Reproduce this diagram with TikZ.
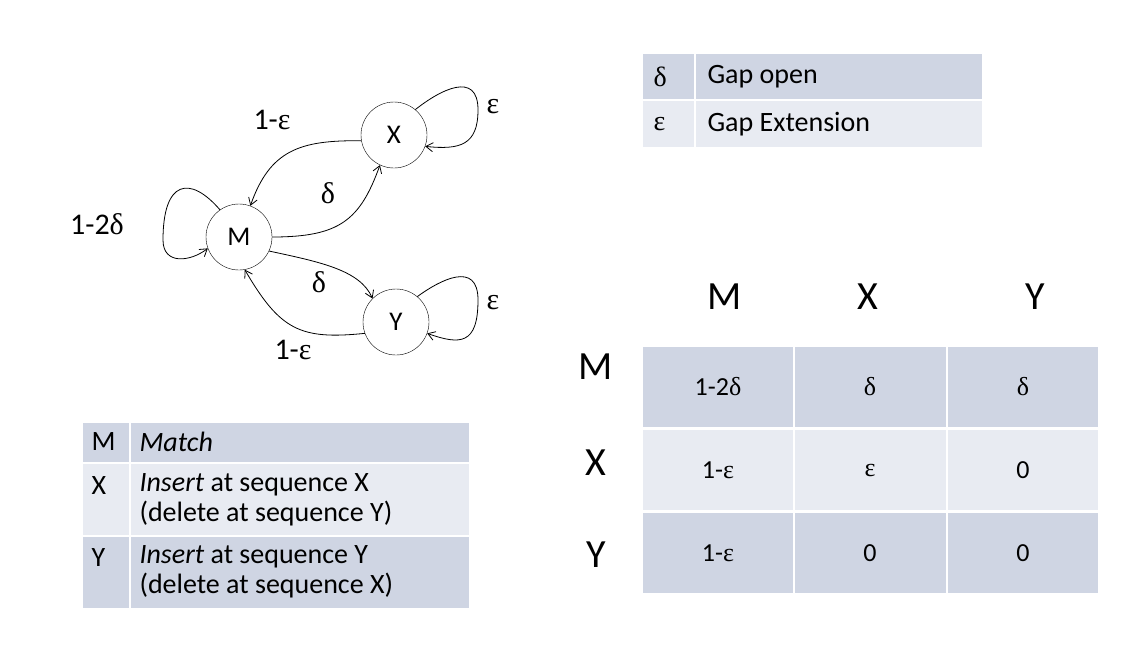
\documentclass[tikz,border=0pt]{standalone}
\usepackage{fontspec}
\setmainfont{Carlito}
\newfontfamily\gr{Liberation Serif}
\usetikzlibrary{arrows.meta}
\definecolor{dk}{HTML}{CFD5E3}
\definecolor{lt}{HTML}{E8EBF2}
\begin{document}
\begin{tikzpicture}[x=1pt,y=-1pt,
  st/.style={circle,draw,minimum size=66pt,inner sep=0pt,font=\fontsize{27}{30}\selectfont},
  ed/.style={-{Straight Barb[length=7pt,width=9pt]},line width=0.8pt},
  lb/.style={font=\fontsize{30}{34}\selectfont},
  tx/.style={anchor=west,font=\fontsize{28}{30}\selectfont,align=left},
  hd/.style={font=\fontsize{40}{44}\selectfont},
  cl/.style={font=\fontsize{26}{30}\selectfont}]
\useasboundingbox (0,0) rectangle (1145,649);
% state diagram
\node[st] (M) at (239,237) {M};
\node[st] (X) at (394,135) {X};
\node[st] (Y) at (396,322) {Y};
\draw[ed] (X.190) .. controls (300,140) and (270,150) .. (M.70);
\draw[ed] (M.east) .. controls (340,237) and (360,220) .. (X.245);
\draw[ed] (M.-25) .. controls (320,262) and (360,270) .. (Y.135);
\draw[ed] (Y.200) .. controls (300,340) and (280,330) .. (M.-80);
\draw[ed] (M.125) .. controls (190,175) and (163,180) .. (163,240) .. controls (163,265) and (190,262) .. (M.200);
\draw[ed] (X.50) .. controls (440,90) and (478,70) .. (478,110) .. controls (478,145) and (460,150) .. (X.-20);
\draw[ed] (Y.50) .. controls (440,280) and (478,260) .. (478,300) .. controls (478,345) and (460,345) .. (Y.-20);
\node[lb] (l1) at (272,120) {1-{\gr ε}};
\node[lb] (l2) at (328,193) {{\gr δ}};
\node[lb] (l3) at (97,224) {1-2{\gr δ}};
\node[lb] (l4) at (319,282) {{\gr δ}};
\node[lb] (l5) at (293,350) {1-{\gr ε}};
\node[lb] (l6) at (493,107) {{\gr ε}};
\node[lb] (l7) at (493,303) {{\gr ε}};
% top table
\fill[dk] (643,54) rectangle (694,99);
\fill[dk] (696,54) rectangle (982,99);
\fill[lt] (643,101) rectangle (694,147);
\fill[lt] (696,101) rectangle (982,147);
\node[tx] (t1) at (650,77) {{\gr δ}};
\node[tx] (t2) at (704,77) {Gap open};
\node[tx] (t3) at (650,124) {{\gr ε}};
\node[tx] (t4) at (704,124) {Gap Extension};
% legend table
\fill[dk] (83,423) rectangle (129,462);
\fill[dk] (131,423) rectangle (469,462);
\fill[lt] (83,464) rectangle (129,535);
\fill[lt] (131,464) rectangle (469,535);
\fill[dk] (83,537) rectangle (129,608);
\fill[dk] (131,537) rectangle (469,608);
\node[tx] (a1) at (88,442) {M};
\node[tx] (a2) at (136,442) {\itshape Match};
\node[tx] (b1) at (88,486) {X};
\node[tx,anchor=north west] (b2) at (136,470) {\textit{Insert} at sequence X\\(delete at sequence Y)};
\node[tx] (c1) at (88,558) {Y};
\node[tx,anchor=north west] (c2) at (136,542) {\textit{Insert} at sequence Y\\(delete at sequence X)};
% matrix
\foreach \y/\c in {347/dk,430/lt,513/dk}{
  \fill[\c] (643,\y) rectangle (793,\y+80);
  \fill[\c] (795,\y) rectangle (946,\y+80);
  \fill[\c] (948,\y) rectangle (1098,\y+80);}
\node[hd] (hM) at (725,297) {M};
\node[hd] (hX) at (868,297) {X};
\node[hd] (hY) at (1035,297) {Y};
\node[hd] (rM) at (596,367) {M};
\node[hd] (rX) at (596,463) {X};
\node[hd] (rY) at (596,555) {Y};
\node[cl] (m11) at (718,387) {1-2{\gr δ}};
\node[cl] (m12) at (870,387) {{\gr δ}};
\node[cl] (m13) at (1023,387) {{\gr δ}};
\node[cl] (m21) at (718,470) {1-{\gr ε}};
\node[cl] (m22) at (870,470) {{\gr ε}};
\node[cl] (m23) at (1023,470) {0};
\node[cl] (m31) at (718,553) {1-{\gr ε}};
\node[cl] (m32) at (870,553) {0};
\node[cl] (m33) at (1023,553) {0};
\end{tikzpicture}
\end{document}
